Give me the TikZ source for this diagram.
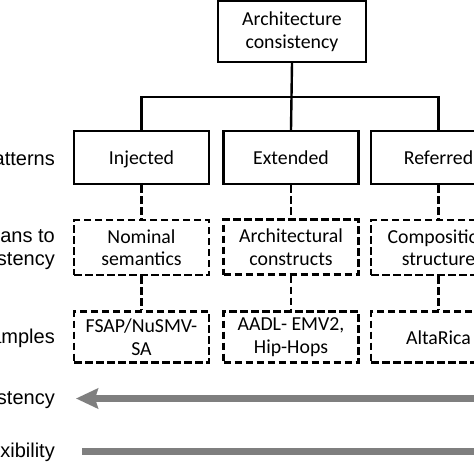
\documentclass[tikz,border=0pt]{standalone}
\usepackage{fontspec}
\setmainfont{Carlito}
\newfontfamily\labelfont{Liberation Sans}
\usetikzlibrary{arrows.meta}
\definecolor{bargray}{HTML}{7F7F7F}
\tikzset{
  boxfont/.style={font=\fontsize{19.8}{22.5}\selectfont},
  solidbox/.style={draw=black, line width=2.4pt, rectangle, minimum width=135pt, minimum height=53pt, inner sep=0pt, align=center, boxfont},
  dashbox/.style={draw=black, line width=2.2pt, dash pattern=on 7.5pt off 3.5pt, rectangle, minimum width=135pt, minimum height=55pt, inner sep=0pt, align=center, boxfont},
  oneline/.style={text height=16.5pt, text depth=2pt},
  rowlabel/.style={anchor=east, align=right, inner sep=0pt, font=\labelfont\fontsize{20}{23}\selectfont},
  solidlink/.style={line width=2.4pt},
  dashlink/.style={line width=2.2pt, dash pattern=on 7.5pt off 3.5pt},
  graybar/.style={line width=7pt, draw=bargray}
}
\begin{document}
\begin{tikzpicture}[x=1pt, y=-1pt]
\useasboundingbox (0,0) rectangle (474,474);
\clip (0,0) rectangle (474,474);
\fill[white] (0,0) rectangle (474,474);

% top
\node[solidbox, minimum width=148pt, minimum height=61pt] (top) at (292,31.5) {Architecture\\consistency};

% patterns
\node[solidbox, oneline] (inj) at (141.5,157.5) {Injected};
\node[solidbox, oneline] (ext) at (291,157.5) {Extended};
\node[solidbox, oneline] (ref) at (438.5,157.5) {Referred};

% means
\node[dashbox] (nom) at (141.5,247.5) {Nominal\\semantics};
\node[dashbox] (arc) at (291,247) {Architectural\\constructs};
\node[dashbox] (com) at (438.5,247.5) {Composition\\structure};

% examples
\node[dashbox, minimum height=51pt] (fsap) at (141.5,337) {FSAP/NuSMV-\\SA};
\node[dashbox, minimum height=51pt] (aadl) at (291,337) {AADL- EMV2,\\Hip-Hops};
\node[dashbox, minimum height=51pt, oneline] (alta) at (438.5,337) {AltaRica};

% tree connectors
\coordinate (bar) at (291,97);
\draw[solidlink] (top.south) -- (ext.north);
\draw[solidlink] (inj.north) -- (inj.north |- bar) -- (ref.north |- bar) -- (ref.north);

\draw[dashlink] (inj.south) -- (nom.north);
\draw[dashlink] (ext.south) -- (arc.north);
\draw[dashlink] (ref.south) -- (com.north);
\draw[dashlink] (nom.south) -- (fsap.north);
\draw[dashlink] (arc.south) -- (aadl.north);
\draw[dashlink] (com.south) -- (alta.north);

% row labels
\node[rowlabel] (lpat) at (55,159) {Patterns};
\node[rowlabel] (lmean) at (55,249) {Means to\\consistency};
\node[rowlabel] (lex) at (55,338) {Examples};
\node[rowlabel] (lcon) at (55,399) {Consistency};
\node[rowlabel] (lflex) at (55,452) {Flexibility};

% gray arrows
\coordinate (conR) at (480,398.5);
\coordinate (conL) at (76,398.5);
\draw[graybar, -{Stealth[length=22pt, width=20pt, inset=3pt, fill=bargray]}] (conR) -- (conL);
\coordinate (flexL) at (82,451);
\coordinate (flexR) at (480,451);
\draw[graybar] (flexL) -- (flexR);
\end{tikzpicture}
\end{document}
